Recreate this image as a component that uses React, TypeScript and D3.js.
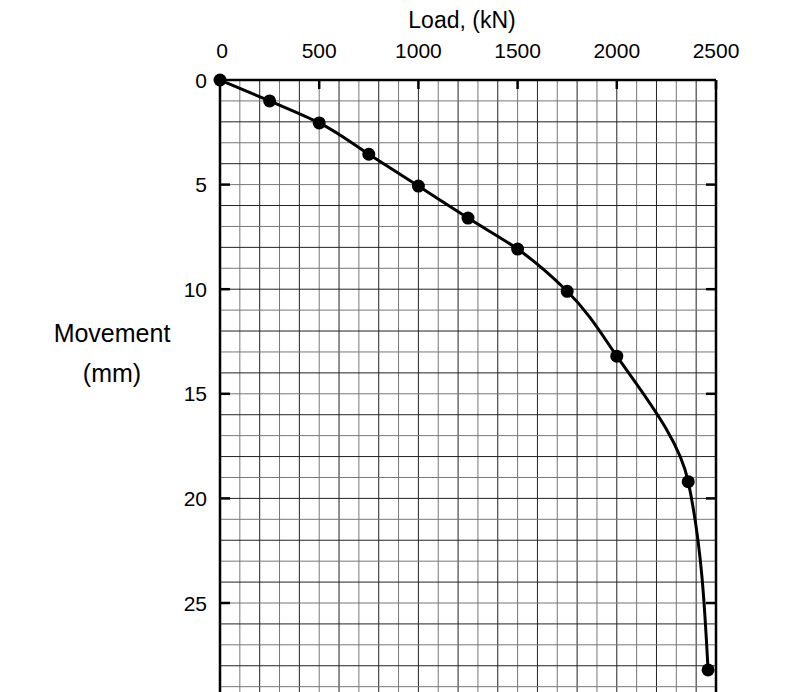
import * as d3 from "d3";

// Load test readings: applied load (kN) vs. pile head movement (mm)
const loads = [0, 250, 500, 750, 1000, 1250, 1500, 1750, 2000, 2360, 2460];
const movements = [0, 1.0, 2.05, 3.55, 5.07, 6.6, 8.08, 10.1, 13.2, 19.2, 28.2];

const loadTicks = [0, 500, 1000, 1500, 2000, 2500];
const movementTicks = [0, 5, 10, 15, 20, 25];

const width = 794;
const height = 692;
const margin = { top: 80, left: 220, right: 78 };

export default function App() {
  const x = d3.scaleLinear().domain([0, 2500]).range([margin.left, width - margin.right]);
  const y = d3.scaleLinear().domain([0, 30]).range([margin.top, margin.top + 30 * 20.92]);

  const points = loads.map((l, i) => ({ load: l, move: movements[i] }));

  const curve = d3
    .line<{ load: number; move: number }>()
    .x((d) => x(d.load))
    .y((d) => y(d.move))
    .curve(d3.curveMonotoneY);

  const vGrid = d3.range(0, 2501, 100);
  const hGrid = d3.range(0, 31, 1);
  const font = "'Liberation Sans', Arial, sans-serif";

  return (
    <svg
      width={width}
      height={height}
      style={{ position: "absolute", left: 0, top: 0, background: "#fff" }}
    >
      {/* graph paper */}
      <g>
        {vGrid.map((v, i) => (
          <line
            key={"v" + v}
            x1={x(v)}
            x2={x(v)}
            y1={y(0)}
            y2={y(30)}
            stroke={i % 2 === 0 ? "#222" : "#777"}
            strokeWidth={1}
          />
        ))}
        {hGrid.map((h, i) => (
          <line
            key={"h" + h}
            x1={x(0)}
            x2={x(2500)}
            y1={y(h)}
            y2={y(h)}
            stroke={i % 2 === 0 ? "#222" : "#777"}
            strokeWidth={1}
          />
        ))}
      </g>

      {/* frame */}
      <line x1={x(0)} x2={x(2500)} y1={y(0)} y2={y(0)} stroke="#000" strokeWidth={2.5} />
      <line x1={x(0)} x2={x(0)} y1={y(0)} y2={y(30)} stroke="#000" strokeWidth={2.5} />
      <line x1={x(2500)} x2={x(2500)} y1={y(0)} y2={y(30)} stroke="#000" strokeWidth={2.5} />

      {/* top axis */}
      {loadTicks.map((t) => (
        <g key={"lt" + t}>
          {t > 0 && (
            <line x1={x(t)} x2={x(t)} y1={y(0)} y2={y(0) + 9} stroke="#000" strokeWidth={2.5} />
          )}
          <text
            x={x(t) + (t === 0 ? 2 : 0)}
            y={58}
            textAnchor="middle"
            fontFamily={font}
            fontSize={21}
            fill="#000"
          >
            {t}
          </text>
        </g>
      ))}

      {/* left and right axes */}
      {movementTicks.map((t) => (
        <g key={"mt" + t}>
          {t > 0 && (
            <>
              <line x1={x(0)} x2={x(0) + 10} y1={y(t)} y2={y(t)} stroke="#000" strokeWidth={2.5} />
              <line x1={x(2500)} x2={x(2500) - 10} y1={y(t)} y2={y(t)} stroke="#000" strokeWidth={2.5} />
            </>
          )}
          <text
            x={207}
            y={y(t) + 7.5}
            textAnchor="end"
            fontFamily={font}
            fontSize={21}
            fill="#000"
          >
            {t}
          </text>
        </g>
      ))}

      {/* titles */}
      <text x={462} y={28} textAnchor="middle" fontFamily={font} fontSize={23} fill="#000">
        Load, (kN)
      </text>
      <text x={112} y={342} textAnchor="middle" fontFamily={font} fontSize={25} fill="#000">
        Movement
      </text>
      <text x={112} y={382} textAnchor="middle" fontFamily={font} fontSize={25} fill="#000">
        (mm)
      </text>

      {/* load-movement curve */}
      <path d={curve(points) ?? ""} fill="none" stroke="#000" strokeWidth={3} />
      {points.map((p) => (
        <circle key={"p" + p.load} cx={x(p.load)} cy={y(p.move)} r={6.5} fill="#000" />
      ))}
    </svg>
  );
}
